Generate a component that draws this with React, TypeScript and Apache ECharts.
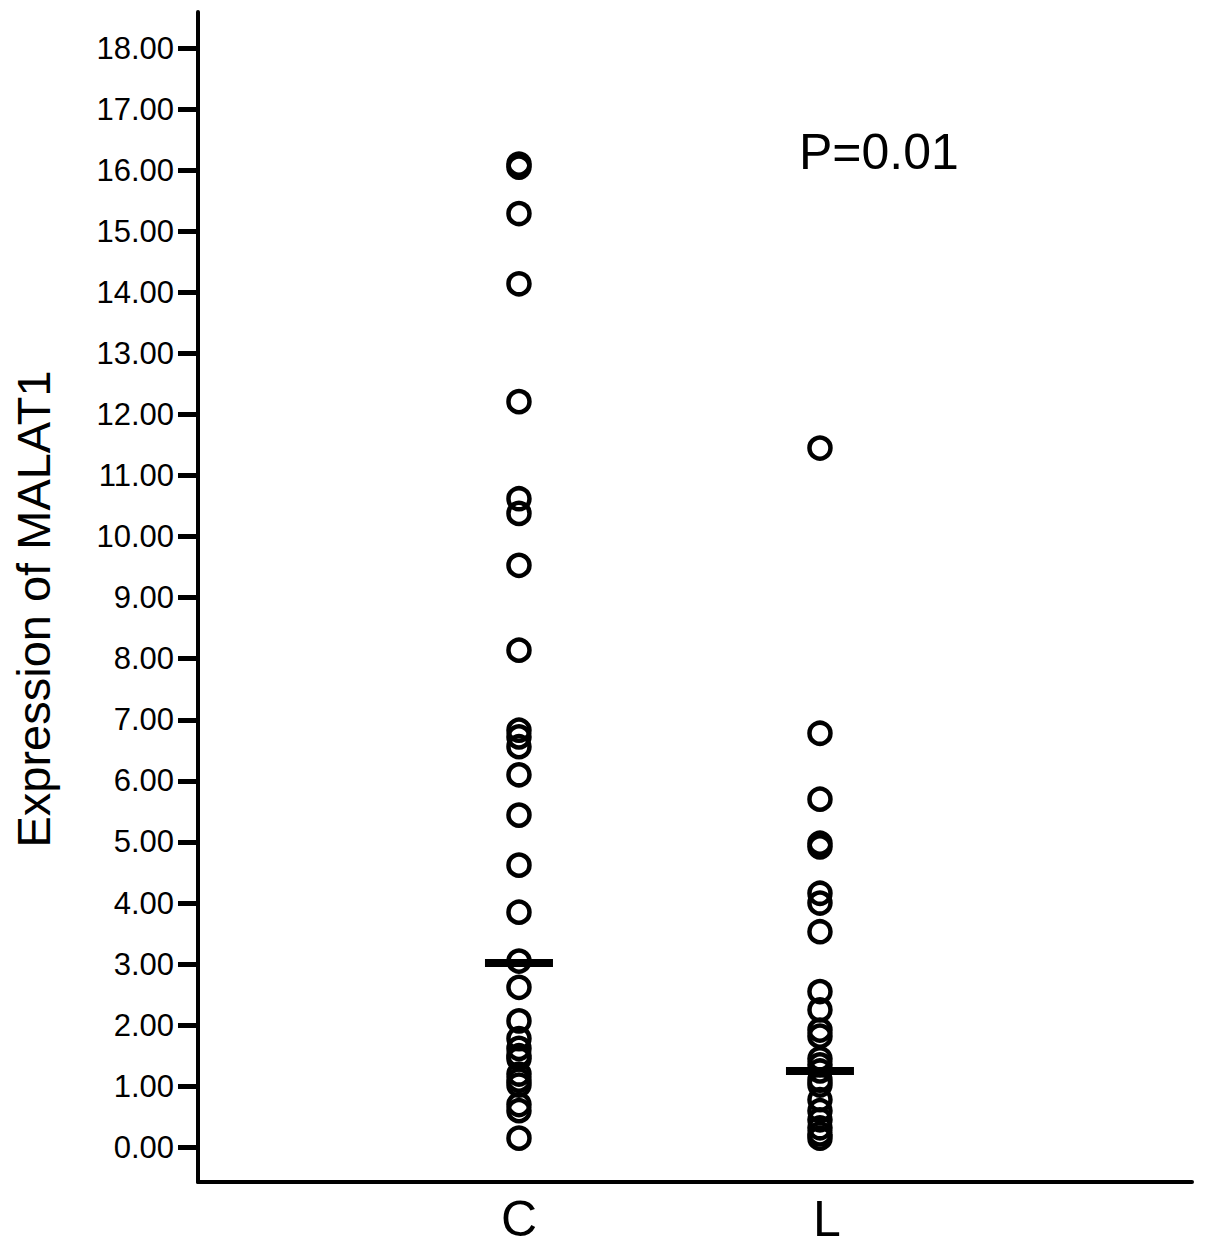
import React, { useEffect, useRef } from "react";
import * as echarts from "echarts";

const categories = ["C", "L"];
const yTicks = [0, 1, 2, 3, 4, 5, 6, 7, 8, 9, 10, 11, 12, 13, 14, 15, 16, 17, 18];
const cValues = [
  16.1, 16.05, 15.29, 14.14, 12.21, 10.62, 10.38, 9.53, 8.14, 6.83, 6.72, 6.56, 6.1, 5.44,
  4.62, 3.85, 3.05, 2.62, 2.07, 1.78, 1.62, 1.5, 1.45, 1.2, 1.1, 1.02, 0.7, 0.6, 0.15,
];
const lValues = [
  11.45, 6.78, 5.7, 4.98, 4.92, 4.16, 4.0, 3.53, 2.55, 2.25, 1.92, 1.82, 1.45, 1.35, 1.25,
  1.1, 1.02, 0.78, 0.6, 0.45, 0.32, 0.22, 0.15,
];
const medians = [3.02, 1.25];
const pText = "P=0.01";
const yName = "Expression of MALAT1";

const FONT = "'Liberation Sans', Arial, sans-serif";

export default function App() {
  const ref = useRef<HTMLDivElement>(null);
  useEffect(() => {
    if (!ref.current) return;
    const chart = echarts.init(ref.current, null, { renderer: "svg" });
    const pts = (vals: number[], idx: number) => vals.map((v) => [idx + 1, v]);
    const ring = { color: "rgba(0,0,0,0)", borderColor: "#000", borderWidth: 4.5, opacity: 1 };
    chart.setOption({
      animation: false,
      backgroundColor: "#fff",
      grid: { left: 198, top: 12, width: 994, height: 1170, containLabel: false },
      xAxis: {
        type: "value",
        min: -0.0664,
        max: 3.236,
        splitLine: { show: false },
        axisLine: { show: true, onZero: false, lineStyle: { color: "#000", width: 4 } },
        axisTick: { show: false },
        axisLabel: {
          customValues: [1, 2],
          formatter: (v: number) => {
            const name = categories[Math.round(v) - 1] ?? "";
            return Math.round(v) === 2 ? `{l|${name}}` : name;
          },
          color: "#000",
          fontSize: 50,
          fontFamily: FONT,
          margin: 12,
          rich: {
            l: { fontSize: 50, fontFamily: FONT, color: "#000", padding: [0, 0, 0, 14] },
          },
        },
      },
      yAxis: {
        type: "value",
        min: -0.568,
        max: 18.59,
        splitLine: { show: false },
        axisLine: { show: true, onZero: false, lineStyle: { color: "#000", width: 4 } },
        axisTick: {
          show: true,
          customValues: yTicks,
          length: 20,
          lineStyle: { color: "#000", width: 5 },
        },
        axisLabel: {
          customValues: yTicks,
          formatter: (v: number) => v.toFixed(2),
          color: "#000",
          fontSize: 31,
          fontFamily: FONT,
          margin: 24,
        },
      },
      series: [
        {
          type: "scatter",
          data: medians.map((m, i) => [i + 1, m]),
          symbol: "rect",
          symbolSize: [68, 8],
          itemStyle: { color: "#000", opacity: 1 },
          z: 3,
        },
        {
          type: "scatter",
          data: pts(cValues, 0),
          symbol: "circle",
          symbolSize: 21,
          itemStyle: ring,
          z: 2,
        },
        {
          type: "scatter",
          data: pts(lValues, 1),
          symbol: "circle",
          symbolSize: 21,
          itemStyle: ring,
          z: 2,
        },
      ],
      graphic: [
        {
          type: "text",
          x: 33,
          y: 609,
          rotation: Math.PI / 2,
          style: {
            text: yName,
            fill: "#000",
            font: `47px ${FONT}`,
            align: "center",
            verticalAlign: "middle",
          },
        },
        {
          type: "text",
          x: 799,
          y: 152,
          style: {
            text: pText,
            fill: "#000",
            font: `50px ${FONT}`,
            align: "left",
            verticalAlign: "middle",
          },
        },
      ],
    });
    return () => chart.dispose();
  }, []);
  return (
    <div
      ref={ref}
      style={{ position: "fixed", left: 0, top: 0, width: 1205, height: 1248 }}
    />
  );
}
